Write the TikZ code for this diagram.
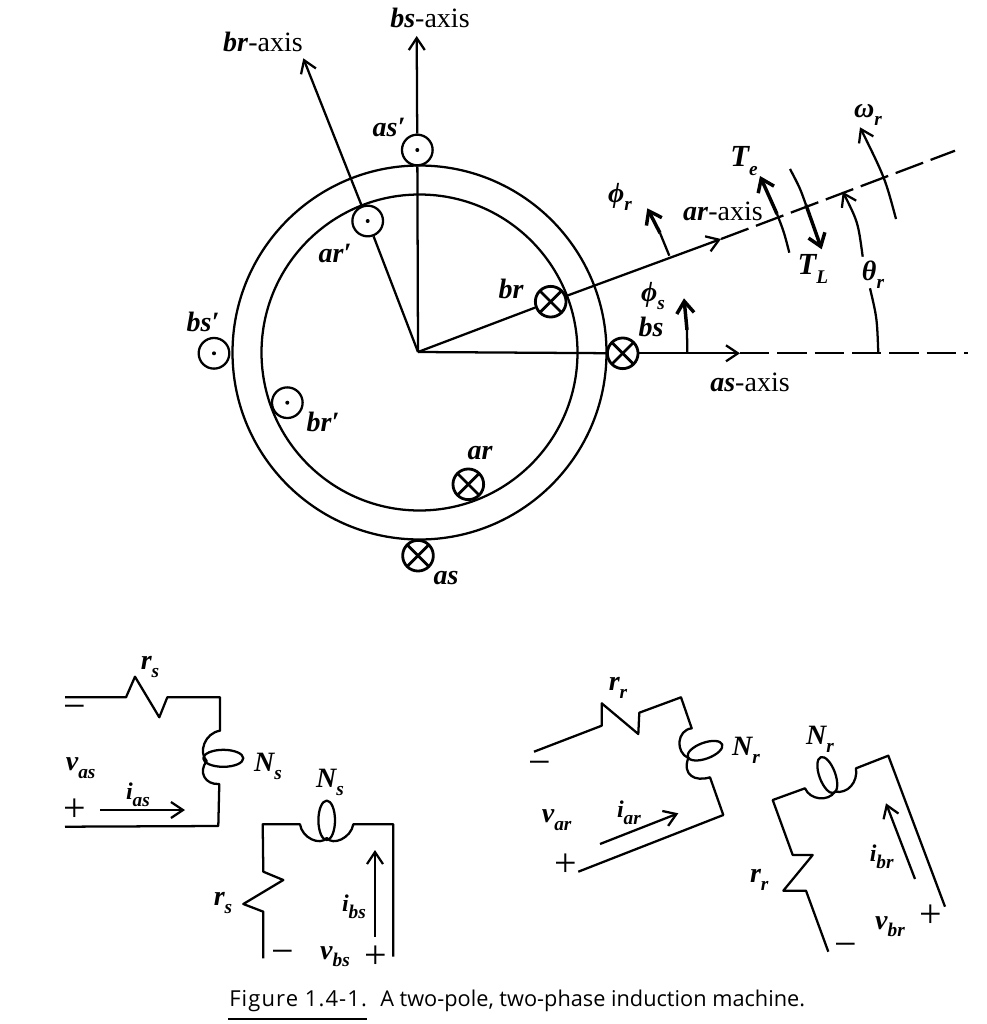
\documentclass[tikz,border=0pt]{standalone}
\usepackage{fontspec}
\setmainfont{Liberation Serif}
\newfontfamily\capfont{Open Sans}
\newfontfamily\capfontwide[LetterSpace=5]{Open Sans}
\usetikzlibrary{arrows.meta}
\newcommand{\subt}[1]{\raisebox{-.28em}{\fontsize{14.5}{15}\selectfont #1}}
\newcommand{\axisword}{\textup{\mdseries -axis}}
\tikzset{
    lab/.style={font=\fontsize{21}{24}\selectfont\bfseries\itshape, inner sep=0pt},
    bigt/.style={font=\fontsize{23}{26}\selectfont\bfseries\itshape, inner sep=0pt},
    smalllab/.style={font=\fontsize{18}{22}\selectfont\bfseries\itshape, inner sep=0pt},
    sign/.style={font=\fontsize{30}{30}\selectfont, inner sep=0pt},
    wire/.style={line width=1.7pt, line join=round},
    ring/.style={line width=1.7pt},
    axis/.style={line width=1.7pt, -{Straight Barb[length=9pt,width=12pt,line width=1.7pt]}},
    axisdash/.style={line width=1.7pt, dash pattern=on 22pt off 6pt},
    bold arrow/.style={line width=2.6pt, -{Straight Barb[length=9pt,width=13pt,line width=2.6pt]}},
    dotcond/.style={circle, draw, fill=white, line width=1.7pt, minimum size=23pt, inner sep=0pt,
        path picture={\fill[black] (path picture bounding box.center) circle (1.5pt);}},
    crosscond/.style={circle, draw, fill=white, line width=2.1pt, minimum size=23pt, inner sep=0pt,
        path picture={
            \draw[line width=2.1pt] (path picture bounding box.north west) -- (path picture bounding box.south east);
            \draw[line width=2.1pt] (path picture bounding box.north east) -- (path picture bounding box.south west);}},
}
\begin{document}
\begin{tikzpicture}[x=0.75pt,y=-0.75pt]
    \useasboundingbox (0,0) rectangle (987,1024);

    \coordinate (centre) at (418,352);
    \coordinate (ringc) at (419.5,352.5);
    \draw[ring] (ringc) circle [radius=187];
    \draw[ring] (ringc) circle [radius=158];

    \node[dotcond] (asp) at (417.3,150) {};
    \node[dotcond] (arp) at (367.7,221) {};
    \node[dotcond] (bsp) at (214,353.3) {};
    \node[dotcond] (brp) at (287.3,402.7) {};
    \node[crosscond] (brc) at (550.7,301.7) {};
    \node[crosscond] (bsc) at (622.7,353.3) {};
    \node[crosscond] (arc) at (468.3,484.3) {};
    \node[crosscond] (asc) at (418,555.7) {};

    \coordinate (bstip) at (416.7,36);
    \coordinate (brtip) at (303.3,58.3);
    \coordinate (artip) at (721,239);
    \coordinate (arend) at (955,150.7);
    \coordinate (astip) at (740,353.3);
    \coordinate (asend) at (968,353.3);

    \draw[wire] (centre) -- (asp);
    \draw[wire] (centre) -- (arp);
    \draw[wire] (centre) -- (brc);
    \draw[wire] (centre) -- (bsc);
    \draw[axis] (asp) -- (bstip);
    \draw[axis] (arp) -- (brtip);
    \draw[axis] (brc) -- (artip);
    \draw[axis] (bsc) -- (astip);
    \draw[axisdash] (artip) -- (arend);
    \draw[axisdash] (astip) -- (asend);

    \draw[wire] (669.3,255.7) -- (660,233);
    \draw[bold arrow] (660,233) -- (647.3,208.3);
    \draw[wire] (687.3,353.3) -- (687,330);
    \draw[bold arrow] (687,330) -- (684,298.3);
    \draw[wire] (789.3,252.7) .. controls (784,232) .. (777,214);
    \draw[bold arrow] (777,214) -- (760,176);
    \draw[wire] (790,169) .. controls (800,188) .. (806,205);
    \draw[bold arrow] (806,205) -- (821.7,249.3);
    \draw[axis] (862.7,256.7) .. controls (858,222) .. (842.7,191.7);
    \draw[wire] (878.3,353.3) .. controls (877,318) .. (870,288.3);
    \draw[axis] (896,219) .. controls (885,178) .. (860,127.3);

    \node[lab] (bslab) at (430,18) {bs\axisword};
    \node[lab] (brlab) at (263,42) {br\axisword};
    \node[lab] (asplab) at (389,127) {as′};
    \node[lab] (arplab) at (335,253) {ar′};
    \node[lab] (brclab) at (511,289) {br};
    \node[lab] (bsplab) at (203,322) {bs′};
    \node[lab] (brplab) at (323,422) {br′};
    \node[lab] (arclab) at (480,453) {ar};
    \node[lab] (asclab) at (446,578) {as};
    \node[lab] (bsclab) at (651,327) {bs};
    \node[lab] (aslab) at (750,382) {as\axisword};
    \node[lab] (arlab) at (723,211) {ar\axisword};
    \node[lab] (philab) at (620,197) {ϕ\subt{r}};
    \node[lab] (phislab) at (653,296) {ϕ\subt{s}};
    \node[bigt] (telab) at (744,161) {T\subt{e}};
    \node[bigt] (tllab) at (813,269) {T\subt{L}};
    \node[lab] (thetalab) at (873,275) {θ\subt{r}};
    \node[lab] (omegalab) at (868,115) {ω\subt{r}};

    \draw[wire] (65,697.3) -- (126,697.3) -- (135,676.7) -- (159.3,717.3) -- (167.3,697.3) -- (220,697.3) -- (220,730.7)
        .. controls (205,733) and (198,752) .. (206.7,761)
        .. controls (198,772) and (205,785) .. (219.3,784) -- (218.3,826) -- (65,826.7);
    \draw[wire] (223.3,758.3) ellipse [x radius=20, y radius=8.5];
    \node[lab] (rs1) at (150,666.7) {r\subt{s}};
    \node[sign] (minus1) at (75,712) {−};
    \node[lab] (vas) at (80.7,768.3) {v\subt{as}};
    \node[sign] (plus1) at (75,810) {+};
    \node[smalllab] (ias) at (138,795) {i\subt{as}};
    \coordinate (iasa) at (100,810);
    \coordinate (iasb) at (185,810);
    \draw[axis] (iasa) -- (iasb);
    \node[lab] (ns1) at (268,766) {N\subt{s}};

    \draw[wire] (263.3,958.3) -- (263.3,911.7) -- (243.3,904) -- (283.3,880) -- (263.3,871.7) -- (262.7,824.3) -- (300,824.3)
        .. controls (302,838) and (320,846) .. (326.7,838)
        .. controls (333,846) and (351,838) .. (353.3,824.3) -- (393.3,824.3) -- (393.3,956.7);
    \draw[wire] (326.7,820.3) ellipse [x radius=8.3, y radius=19.7];
    \node[lab] (ns2) at (330,782.7) {N\subt{s}};
    \node[lab] (rs2) at (223,903) {r\subt{s}};
    \node[smalllab] (ibs) at (354,906.7) {i\subt{bs}};
    \coordinate (ibsa) at (375,936.7);
    \coordinate (ibsb) at (375,850);
    \draw[axis] (ibsa) -- (ibsb);
    \node[sign] (minus2) at (282.7,957) {−};
    \node[lab] (vbs) at (335,956.7) {v\subt{bs}};
    \node[sign] (plus2) at (376,956.7) {+};

    \draw[wire] (534,751.7) -- (601.7,725.7) -- (601.7,703.3) -- (638.3,734) -- (639.3,712.7) -- (681,697.3) -- (691.7,728.3)
        .. controls (677,730) and (675,752) .. (688.3,758)
        .. controls (682,775) and (695,782) .. (710,777.3) -- (723.3,815) -- (578.3,871.7);
    \draw[wire, rotate around={20:(705,750.7)}] (705,750.7) ellipse [x radius=18.3, y radius=8];
    \node[lab] (rr1) at (618,688) {r\subt{r}};
    \node[sign] (minus3) at (540,768) {−};
    \node[lab] (var) at (556.7,820) {v\subt{ar}};
    \node[sign] (plus3) at (566,865) {+};
    \node[smalllab] (iar) at (629,813) {i\subt{ar}};
    \coordinate (iara) at (600,844);
    \coordinate (iarb) at (678.3,813.3);
    \draw[axis] (iara) -- (iarb);
    \node[lab] (nr1) at (746,750) {N\subt{r}};

    \draw[wire] (828.3,951.7) -- (806,890.7) -- (783.3,890.7) -- (812.7,855) -- (792.7,855) -- (772.7,800) -- (805,788.3)
        .. controls (810,800) and (828,802) .. (835,791.7)
        .. controls (848,794) and (858,782) .. (856,768.3) -- (888.3,755.7) -- (945,906.7);
    \draw[wire, rotate around={20:(827.3,775)}] (827.3,775) ellipse [x radius=8, y radius=19];
    \node[lab] (nr2) at (820,739.3) {N\subt{r}};
    \node[lab] (rr2) at (759.3,880) {r\subt{r}};
    \node[smalllab] (ibr) at (881.7,856.7) {i\subt{br}};
    \coordinate (ibra) at (915,879);
    \coordinate (ibrb) at (886,803.3);
    \draw[axis] (ibra) -- (ibrb);
    \node[lab] (vbr) at (890,926.7) {v\subt{br}};
    \node[sign] (plus4) at (930.7,916) {+};
    \node[sign] (minus4) at (846,950) {−};

    \node[inner sep=0pt, anchor=west, font=\capfontwide\fontsize{16.5}{19}\selectfont] (capa) at (229,1001) {Figure 1.4-1.};
    \node[inner sep=0pt, anchor=west, font=\capfont\fontsize{16.3}{19}\selectfont] (capb) at (380,1001) {A two-pole, two-phase induction machine.};
    \coordinate (ula) at (228,1019);
    \coordinate (ulb) at (367,1019);
    \draw[line width=1.8pt] (ula) -- (ulb);
\end{tikzpicture}
\end{document}
